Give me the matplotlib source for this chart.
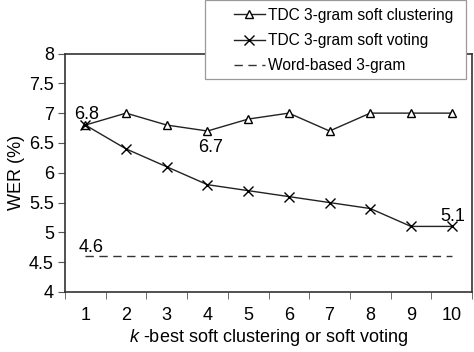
import numpy as np
import matplotlib
matplotlib.use("Agg")
import matplotlib.pyplot as plt
import matplotlib.patches as mpatches

plt.rcParams['font.family'] = ['Liberation Sans', 'DejaVu Sans']
plt.rcParams['mathtext.fontset'] = 'custom'
plt.rcParams['mathtext.it'] = 'Liberation Sans:italic'
plt.rcParams['mathtext.rm'] = 'Liberation Sans'

k = [1, 2, 3, 4, 5, 6, 7, 8, 9, 10]
soft_clustering = [6.8, 7.0, 6.8, 6.7, 6.9, 7.0, 6.7, 7.0, 7.0, 7.0]
soft_voting = [6.8, 6.4, 6.1, 5.8, 5.7, 5.6, 5.5, 5.4, 5.1, 5.1]
word_based = [4.6] * 10
yticks = [4, 4.5, 5, 5.5, 6, 6.5, 7, 7.5, 8]

W, H = 474, 352
fig = plt.figure(figsize=(W / 100, H / 100), dpi=100)
ax = fig.add_axes([65 / W, 60 / H, 407 / W, 238.5 / H])

ax.plot(k, soft_clustering, color='#222222', lw=1.0, marker='^', ms=5.5,
        mfc='white', mec='black', mew=1.0, label='TDC 3-gram soft clustering')
ax.plot(k, soft_voting, color='#222222', lw=1.0, marker='x', ms=6.5,
        mec='black', mew=1.0, label='TDC 3-gram soft voting')
ax.plot(k, word_based, color='#333333', lw=1.0, ls=(0, (6, 4)),
        label='Word-based 3-gram')

# value labels
fs = 13
ax.annotate('6.8', (k[0], soft_clustering[0]), xytext=(-8, 4),
            textcoords='offset points', fontsize=fs)
ax.annotate('6.7', (k[3], soft_clustering[3]), xytext=(-7, -15),
            textcoords='offset points', fontsize=fs)
ax.annotate('5.1', (k[9], soft_voting[9]), xytext=(-8, 4),
            textcoords='offset points', fontsize=fs)
ax.annotate('4.6', (k[0], word_based[0]), xytext=(-5, 3),
            textcoords='offset points', fontsize=fs)

ax.set_xlim(0.5, 10.5)
ax.set_ylim(4, 8)
ax.set_yticks(yticks)
ax.set_yticklabels([f'{v:g}' for v in yticks], fontsize=fs)
ax.set_xticks(k)
ax.set_xticklabels([str(v) for v in k], fontsize=fs)
ax.set_xticks(np.arange(0.5, 11, 1), minor=True)
ax.tick_params(axis='x', which='major', length=0, pad=11)
ax.tick_params(axis='x', which='minor', length=5, direction='out', color='#555555')
ax.tick_params(axis='y', length=5, direction='out', color='#555555', pad=3)

for s in ax.spines.values():
    s.set_color('#333333')
    s.set_linewidth(1.2)

ax.set_ylabel('WER (%)', fontsize=fs, labelpad=3)
ax.set_xlabel(r'$k$ -best soft clustering or soft voting', fontsize=fs, labelpad=2)

# legend box (Excel style, wide left margin)
box = mpatches.Rectangle((205 / W, 1 - 79 / H), 261 / W, 79 / H,
                         transform=fig.transFigure, facecolor='white',
                         edgecolor='#9a9a9a', lw=0.9, zorder=5)
fig.patches.append(box)
leg = fig.legend(loc='upper left', bbox_to_anchor=(226 / W, 1.0),
                 fontsize=11.2, frameon=False, borderpad=0,
                 handlelength=2.0, handletextpad=0.2, labelspacing=0.66)
leg.set_zorder(6)

fig.savefig('out.png', dpi=100)
